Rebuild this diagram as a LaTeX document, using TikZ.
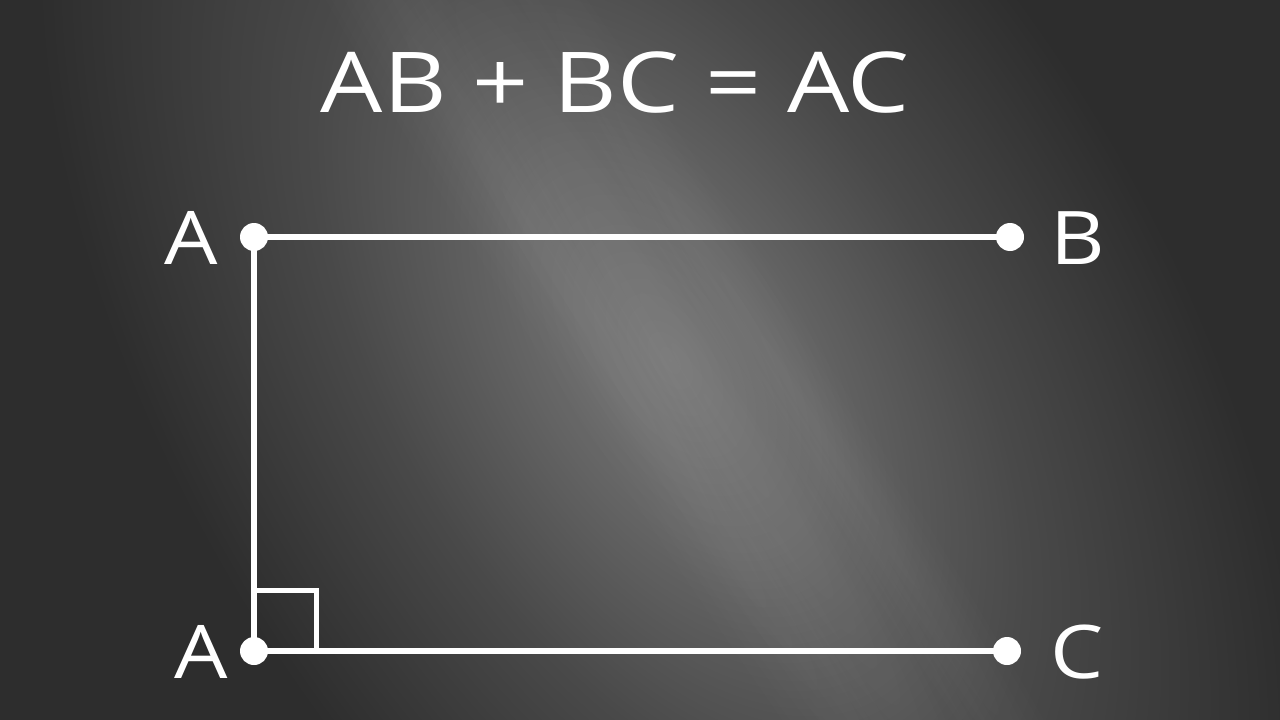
\documentclass[tikz,border=0pt]{standalone}
\usepackage{fontspec}
\setmainfont{Open Sans}
\usetikzlibrary{fadings}
\pgfdeclareradialshading{softglowshade}{\pgfpointorigin}{color(0bp)=(pgftransparent!0); color(6bp)=(pgftransparent!20); color(14bp)=(pgftransparent!60); color(25bp)=(pgftransparent!100); color(50bp)=(pgftransparent!100)}
\pgfdeclarefading{softglow}{\pgfuseshading{softglowshade}}
\begin{document}
\begin{tikzpicture}[x=1pt,y=-1pt,
  dot/.style={circle,fill=white,inner sep=0pt,minimum size=28pt},
  seg/.style={draw=white,line width=6pt},
  lab/.style={text=white,font=\fontsize{74}{80}\selectfont,inner sep=0pt,anchor=center,xscale=1.14}]
\definecolor{bgdark}{HTML}{2D2D2D}
\definecolor{bglight}{HTML}{747474}
\useasboundingbox (0,0) rectangle (1280,720);
\fill[bgdark] (0,0) rectangle (1280,720);
\begin{scope}
\clip (0,0) rectangle (1280,720);
\begin{scope}[transform canvas={shift={(670,360)},rotate=-58,yscale=0.55}]
\fill[bglight,path fading=softglow] (0,0) circle (900pt);
\end{scope}
\begin{scope}[transform canvas={shift={(720,420)},rotate=-58,yscale=0.1}]
\fill[white,opacity=0.07,path fading=softglow] (0,0) circle (900pt);
\end{scope}
\begin{scope}[transform canvas={shift={(560,280)},rotate=-58,yscale=0.07}]
\fill[white,opacity=0.06,path fading=softglow] (0,0) circle (900pt);
\end{scope}
\begin{scope}[transform canvas={shift={(820,430)},rotate=-58,yscale=0.06}]
\fill[white,opacity=0.05,path fading=softglow] (0,0) circle (800pt);
\end{scope}
\end{scope}
\node[text=white,font=\fontsize{84}{90}\selectfont,inner sep=0pt,xscale=1.17] (title) at (615,82) {AB + BC = AC};
\node[dot] (A1) at (254,237) {};
\node[dot] (B) at (1010,237) {};
\node[dot] (A2) at (254,651) {};
\node[dot] (C) at (1007,651) {};
\draw[seg] (A1.center) -- (B.center);
\draw[seg] (A1.center) -- (A2.center);
\draw[seg] (A2.center) -- (C.center);
\draw[draw=white,line width=5pt] (256,590) -- (316,590) -- (316,651);
\node[lab] (lA1) at (191,238) {A};
\node[lab] (lB) at (1078,238) {B};
\node[lab] (lA2) at (201,652) {A};
\node[lab] (lC) at (1077,652) {C};
\end{tikzpicture}
\end{document}
